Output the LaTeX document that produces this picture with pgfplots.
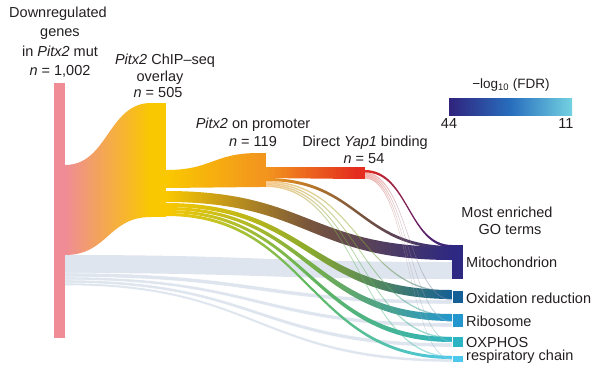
\documentclass[border=0pt]{standalone}
\usepackage{fontspec}
\setmainfont{Liberation Sans}
\usepackage{pgfplots}
\pgfplotsset{compat=1.18}
\usetikzlibrary{calc}
\definecolor{txt}{RGB}{35,31,32}
\definecolor{pinkc}{RGB}{239,140,150}
\definecolor{ylw}{RGB}{250,200,0}
\definecolor{orng}{RGB}{243,150,30}
\definecolor{redc}{RGB}{228,45,30}
\definecolor{navy}{RGB}{45,40,130}
\definecolor{oxid}{RGB}{20,95,150}
\definecolor{ribo}{RGB}{35,150,205}
\definecolor{oxph}{RGB}{45,180,195}
\definecolor{resp}{RGB}{75,200,235}
\definecolor{greyr}{RGB}{222,229,238}
\definecolor{brownc}{RGB}{120,85,60}
\definecolor{grn1}{RGB}{140,170,45}
\definecolor{grn2}{RGB}{120,175,70}
\definecolor{grn3}{RGB}{100,180,90}
\definecolor{grn4}{RGB}{95,185,100}
\definecolor{cbA}{RGB}{48,35,125}
\definecolor{cbB}{RGB}{40,110,190}
\definecolor{cbC}{RGB}{115,210,225}
% ribbon: x0, top0, bottom0, x1, top1, bottom1, style
\newcommand{\ribbon}[7]{%
 \path[#7] (axis cs:#1,#2) .. controls ($(axis cs:#1,#2)!0.5!(axis cs:#4,#2)$) and ($(axis cs:#1,#5)!0.5!(axis cs:#4,#5)$) .. (axis cs:#4,#5) -- (axis cs:#4,#6) .. controls ($(axis cs:#1,#6)!0.5!(axis cs:#4,#6)$) and ($(axis cs:#1,#3)!0.5!(axis cs:#4,#3)$) .. (axis cs:#1,#3) -- cycle;}
% node bar: x0, x1, y0, y1, colour
\newcommand{\nodebar}[5]{%
 \addplot[fill=#5, draw=none] coordinates {(#1,#3) (#2,#3) (#2,#4) (#1,#4)} --cycle;}
\begin{document}
\begin{tikzpicture}[font=\fontsize{14.5}{17}\selectfont, every node/.style={text=txt, inner sep=0pt}]
\begin{axis}[scale only axis, width=600pt, height=368pt, xmin=0, xmax=600, ymin=0, ymax=368, y dir=reverse, hide axis, clip=false]
\path (axis cs:0,0) rectangle (axis cs:600,368);
% grey (not bound) ribbons
\ribbon{65}{255}{273}{452}{262}{279}{fill=greyr}
\ribbon{65}{273}{277}{452}{300}{304}{fill=greyr, draw=white, line width=0.4pt}
\ribbon{65}{277}{280}{452}{323}{327}{fill=greyr, draw=white, line width=0.4pt}
\ribbon{65}{280}{283}{452}{343}{347}{fill=greyr, draw=white, line width=0.4pt}
\ribbon{65}{283}{285.5}{452}{359}{362}{fill=greyr, draw=white, line width=0.4pt}
% yellow node -> GO terms
\ribbon{166}{191}{202}{452}{247}{260}{left color=ylw, right color=navy, middle color=brownc}
\ribbon{166}{203}{207}{452}{290}{299}{left color=ylw, right color=oxid, middle color=grn1}
\ribbon{166}{207}{210}{452}{314}{321}{left color=ylw, right color=ribo, middle color=grn2}
\ribbon{166}{210}{213}{452}{337}{342}{left color=ylw, right color=oxph, middle color=grn3}
\ribbon{166}{213}{216}{452}{356}{359}{left color=ylw, right color=resp, middle color=grn4}
% orange node -> GO terms
\ribbon{266}{178}{181}{452}{246}{249}{left color=orng, right color=navy, middle color=brownc}
\ribbon{266}{181}{182.5}{452}{291}{292.5}{left color=orng, right color=oxid, middle color=grn1, fill opacity=0.5}
\ribbon{266}{182.5}{184}{452}{315}{316.5}{left color=orng, right color=ribo, middle color=grn2, fill opacity=0.5}
\ribbon{266}{184}{185.5}{452}{337}{338.5}{left color=orng, right color=oxph, middle color=grn3, fill opacity=0.5}
\ribbon{266}{185.5}{187}{452}{356}{357.5}{left color=orng, right color=resp, middle color=grn4, fill opacity=0.5}
% red node -> GO terms
\ribbon{365}{170}{172.5}{452}{245}{247.5}{left color=redc, right color=navy, middle color={rgb,255:red,120;green,30;blue,90}}
\ribbon{365}{172.5}{174}{452}{299}{300.3}{left color=redc!70, right color=oxid!70, fill opacity=0.5}
\ribbon{365}{174}{175.5}{452}{321}{322.3}{left color=redc!70, right color=ribo!70, fill opacity=0.5}
\ribbon{365}{175.5}{177}{452}{341}{342.3}{left color=redc!70, right color=oxph!70, fill opacity=0.5}
\ribbon{365}{177}{178.5}{452}{358.5}{359.8}{left color=redc!70, right color=resp!70, fill opacity=0.5}
% main flow
\ribbon{65}{165}{255}{151}{103}{217}{left color=pinkc, right color=ylw}
\nodebar{150}{166}{103}{217}{ylw}
\ribbon{166}{170}{188}{259}{153}{187}{left color=ylw, right color=orng}
\nodebar{258}{266}{153}{187}{orng}
\ribbon{266}{167}{178}{356}{167}{179}{left color=orng, right color=redc}
\nodebar{355}{365}{167}{179}{redc}
\nodebar{54}{65}{83}{338}{pinkc}
% GO term bars
\nodebar{452}{463}{245}{279}{navy}
\nodebar{453}{463}{291}{303}{oxid}
\nodebar{453}{463}{314}{327}{ribo}
\nodebar{453}{463}{337}{347}{oxph}
\nodebar{453}{463}{356}{362}{resp}
% colour bar
\addplot[draw=none, left color=cbA, right color=cbC, middle color=cbB] coordinates {(449,98) (572,98) (572,115) (449,115)} --cycle;
% texts
\node[anchor=base] at (axis cs:58,17) {Downregulated};
\node[anchor=base] at (axis cs:60,36) {genes};
\node[anchor=base] at (axis cs:60,56) {in \textit{Pitx2} mut};
\node[anchor=base] at (axis cs:60,75) {\textit{n} = 1,002};
\node[anchor=base] at (axis cs:165,64) {\textit{Pitx2} ChIP–seq};
\node[anchor=base] at (axis cs:160,81) {overlay};
\node[anchor=base] at (axis cs:158,97) {\textit{n} = 505};
\node[anchor=base] at (axis cs:253,128) {\textit{Pitx2} on promoter};
\node[anchor=base] at (axis cs:253,146) {\textit{n} = 119};
\node[anchor=base] at (axis cs:365,146) {Direct \textit{Yap1} binding};
\node[anchor=base] at (axis cs:364,163) {\textit{n} = 54};
\node[anchor=base] at (axis cs:511,88) {\fontsize{13.5}{15}\selectfont −log\textsubscript{10} (FDR)};
\node[anchor=base] at (axis cs:449,128) {44};
\node[anchor=base] at (axis cs:566,128) {11};
\node[anchor=base] at (axis cs:507,217) {Most enriched};
\node[anchor=base] at (axis cs:510,234) {GO terms};
\node[anchor=base west] at (axis cs:466,267) {Mitochondrion};
\node[anchor=base west] at (axis cs:466,303) {Oxidation reduction};
\node[anchor=base west] at (axis cs:466,326) {Ribosome};
\node[anchor=base west] at (axis cs:466,347) {OXPHOS};
\node[anchor=base west] at (axis cs:466,360.5) {respiratory chain};
\end{axis}
\end{tikzpicture}
\end{document}
